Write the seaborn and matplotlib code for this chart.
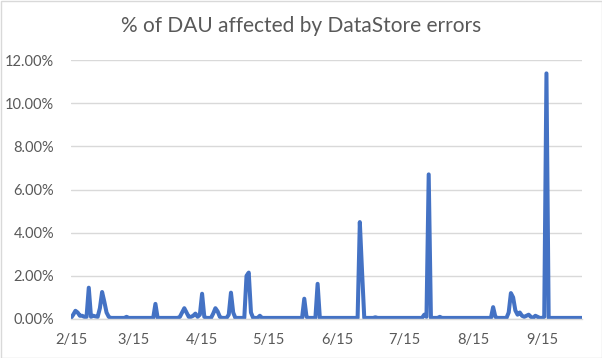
import numpy as np
import pandas as pd
import matplotlib
matplotlib.use("Agg")
import matplotlib.pyplot as plt
import matplotlib.dates as mdates
import seaborn as sns

# ---- data (percent of DAU, daily from 2017-02-15) ----
start_date = "2017-02-15"
pct_affected = [
    0.05, 0.20, 0.38, 0.30, 0.15, 0.15, 0.10, 0.10, 1.45, 0.10,   # 0-9
    0.15, 0.12, 0.10, 0.50, 1.25, 0.80, 0.30, 0.10, 0.05, 0.05,   # 10-19
    0.05, 0.05, 0.05, 0.05, 0.05, 0.10, 0.05, 0.05, 0.05, 0.05,   # 20-29
    0.05, 0.05, 0.05, 0.05, 0.05, 0.05, 0.05, 0.05, 0.70, 0.05,   # 30-39
    0.05, 0.05, 0.05, 0.05, 0.05, 0.05, 0.05, 0.05, 0.05, 0.10,   # 40-49
    0.30, 0.50, 0.30, 0.10, 0.10, 0.15, 0.25, 0.10, 0.20, 1.17,   # 50-59
    0.10, 0.05, 0.05, 0.05, 0.25, 0.50, 0.35, 0.10, 0.05, 0.05,   # 60-69
    0.05, 0.20, 1.22, 0.30, 0.05, 0.05, 0.05, 0.05, 0.05, 2.00,   # 70-79
    2.15, 0.30, 0.05, 0.05, 0.05, 0.15, 0.05, 0.05, 0.05, 0.05,   # 80-89
    0.05, 0.05, 0.05, 0.05, 0.05, 0.05, 0.05, 0.05, 0.05, 0.05,   # 90-99
    0.05, 0.05, 0.05, 0.05, 0.05, 0.94, 0.10, 0.05, 0.05, 0.05,   # 100-109
    0.05, 1.63, 0.05, 0.05, 0.05, 0.05, 0.05, 0.05, 0.05, 0.05,   # 110-119
    0.05, 0.05, 0.05, 0.05, 0.05, 0.05, 0.05, 0.05, 0.05, 0.05,   # 120-129
    4.49, 2.20, 0.05, 0.05, 0.05, 0.05, 0.05, 0.08, 0.05, 0.05,   # 130-139
    0.05, 0.05, 0.05, 0.05, 0.05, 0.05, 0.05, 0.05, 0.05, 0.05,   # 140-149
    0.05, 0.05, 0.05, 0.05, 0.05, 0.05, 0.05, 0.05, 0.05, 0.20,   # 150-159
    0.10, 6.70, 0.05, 0.05, 0.05, 0.05, 0.10, 0.05, 0.05, 0.05,   # 160-169
    0.05, 0.05, 0.05, 0.05, 0.05, 0.05, 0.05, 0.05, 0.05, 0.05,   # 170-179
    0.05, 0.05, 0.05, 0.05, 0.05, 0.05, 0.05, 0.05, 0.05, 0.05,   # 180-189
    0.55, 0.10, 0.05, 0.05, 0.05, 0.05, 0.05, 0.30, 1.20, 1.00,   # 190-199
    0.40, 0.20, 0.30, 0.15, 0.10, 0.15, 0.20, 0.10, 0.05, 0.15,   # 200-209
    0.10, 0.05, 0.05, 0.10, 11.38, 0.05, 0.05, 0.05, 0.05, 0.05,  # 210-219
    0.05, 0.05, 0.05, 0.05, 0.05, 0.05, 0.05, 0.05, 0.05, 0.05,   # 220-229
    0.05,                                                          # 230
]
tick_dates = ["2017-02-15", "2017-03-15", "2017-04-15", "2017-05-15",
              "2017-06-15", "2017-07-15", "2017-08-15", "2017-09-15"]
tick_labels = ["2/15", "3/15", "4/15", "5/15", "6/15", "7/15", "8/15", "9/15"]
y_ticks = [0, 2, 4, 6, 8, 10, 12]
title = "% of DAU affected by DataStore errors"

df = pd.DataFrame({
    "date": pd.date_range(start_date, periods=len(pct_affected), freq="D"),
    "pct": pct_affected,
})

sns.set_theme(style="white")
plt.rcParams["font.family"] = ["Lato", "DejaVu Sans"]

W, H = 602, 358
fig = plt.figure(figsize=(W / 100, H / 100), dpi=100)
ax = fig.add_axes([71 / W, (H - 319) / H, (582 - 71) / W, (319 - 60) / H])

sns.lineplot(data=df, x="date", y="pct", ax=ax, color="#4472C4",
             linewidth=2.9, solid_joinstyle="round", solid_capstyle="round")

ax.set_xlim(df["date"].iloc[0], df["date"].iloc[-1])
ax.set_ylim(0, 12)
ax.set_yticks(y_ticks)
ax.set_yticklabels([f"{v:.2f}%" for v in y_ticks])
ax.set_xticks(pd.to_datetime(tick_dates))
ax.set_xticklabels(tick_labels)

grid_c = "#D9D9D9"
text_c = "#595959"
ax.grid(axis="y", color=grid_c, linewidth=1.0)
ax.grid(axis="x", visible=False)
ax.set_axisbelow(True)
for s in ["top", "right", "left"]:
    ax.spines[s].set_visible(False)
ax.spines["bottom"].set_color(grid_c)
ax.spines["bottom"].set_linewidth(1.0)
ax.tick_params(axis="x", which="major", direction="out", length=4, width=1,
               color=grid_c, labelcolor=text_c, labelsize=10.5, pad=6)
ax.tick_params(axis="y", length=0, labelcolor=text_c, labelsize=10.5, pad=12)
ax.set_xlabel("")
ax.set_ylabel("")

fig.text(0.5, 1 - 26 / H, title, ha="center", va="center",
         fontsize=15, color=text_c)

# light chart border
fig.patches.append(plt.Rectangle((0.5 / W, 0.5 / H), 1 - 1 / W, 1 - 1 / H,
                                 transform=fig.transFigure, fill=False,
                                 edgecolor=grid_c, linewidth=1.0))

fig.savefig("out.png", dpi=100)
